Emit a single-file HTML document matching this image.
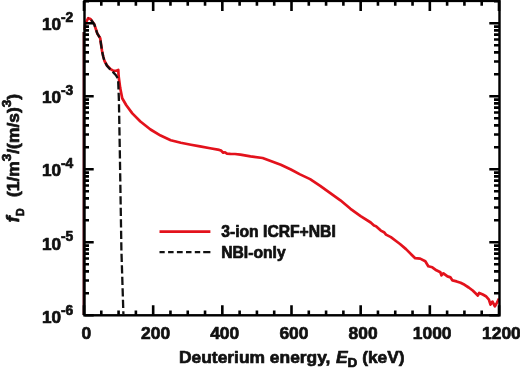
<!DOCTYPE html><html><head><meta charset="utf-8"><title>plot</title><style>html,body{margin:0;padding:0;background:#fff}svg{display:block}</style></head><body><svg width="520" height="368" viewBox="0 0 520 368">
<rect width="520" height="368" fill="#fff"/>
<polyline points="84.6,30.0 85.2,24.0 88.2,18.2 90.5,19.0 94.3,24.3 96.0,29.5 97.3,33.5 100.2,38.2 101.0,44.0 102.0,50.8 103.2,56.5 104.5,61.0 107.0,65.5 110.6,69.2 113.6,70.9 116.7,70.6 118.3,70.0 118.6,76.0 120.2,88.1 122.2,98.2 126.3,105.3 132.3,113.4 140.4,121.5 150.5,129.5 160.6,135.6 170.7,140.2 180.8,142.7 190.9,144.7 200.0,146.3 210.1,148.3 219.2,149.9 221.0,150.6 223.2,152.7 225.0,152.3 227.0,153.6 230.3,153.9 235.0,154.0 240.4,154.7 250.5,156.4 262.6,158.0 270.7,161.0 280.8,164.8 290.9,169.5 300.0,174.4 310.1,179.1 320.2,185.8 330.3,193.2 340.4,200.3 350.5,208.8 360.6,216.1 370.7,222.5 374.0,225.5 376.0,226.2 380.8,230.6 384.0,232.2 386.0,234.6 390.9,237.1 396.0,241.0 400.0,244.0 406.0,249.1 412.1,255.2 415.2,258.2 420.2,258.6 425.3,261.2 428.3,266.3 432.3,267.3 436.4,270.3 440.4,272.3 441.4,275.4 443.4,273.3 447.5,276.4 450.5,277.4 452.5,280.4 456.6,281.4 460.6,282.8 464.6,284.8 468.7,287.5 472.7,290.5 475.8,293.5 477.8,295.6 479.2,292.9 482.8,294.5 485.9,296.2 488.9,299.6 490.5,304.6 492.5,301.6 494.9,306.3 497.0,302.6 499.0,298.6" fill="none" stroke="#e3121c" stroke-width="2.7" stroke-linejoin="round"/>
<polyline points="88.2,18.2 90.5,19.0 94.3,24.3 96.0,29.5 97.3,33.5 100.2,38.2 101.0,44.0 102.0,50.8 103.2,56.5 104.5,61.0 107.0,65.8 110.6,69.8 113.3,72.4 115.7,75.0 118.1,78.8 118.9,100.0 119.8,150.0 121.4,250.0 123.4,314.0" fill="none" stroke="#111" stroke-width="2.3" stroke-dasharray="8.2 3.3" stroke-dashoffset="8"/>
<path d="M83.3 315V32" stroke="#50000c" stroke-width="1.6" fill="none"/>
<path d="M84.00 315.3v-10M84.00 0.9v10M101.29 315.3v-4.8M101.29 0.9v4.8M118.58 315.3v-4.8M118.58 0.9v4.8M135.88 315.3v-4.8M135.88 0.9v4.8M153.17 315.3v-10M153.17 0.9v10M170.46 315.3v-4.8M170.46 0.9v4.8M187.75 315.3v-4.8M187.75 0.9v4.8M205.04 315.3v-4.8M205.04 0.9v4.8M222.33 315.3v-10M222.33 0.9v10M239.62 315.3v-4.8M239.62 0.9v4.8M256.92 315.3v-4.8M256.92 0.9v4.8M274.21 315.3v-4.8M274.21 0.9v4.8M291.50 315.3v-10M291.50 0.9v10M308.79 315.3v-4.8M308.79 0.9v4.8M326.08 315.3v-4.8M326.08 0.9v4.8M343.38 315.3v-4.8M343.38 0.9v4.8M360.67 315.3v-10M360.67 0.9v10M377.96 315.3v-4.8M377.96 0.9v4.8M395.25 315.3v-4.8M395.25 0.9v4.8M412.54 315.3v-4.8M412.54 0.9v4.8M429.83 315.3v-10M429.83 0.9v10M447.12 315.3v-4.8M447.12 0.9v4.8M464.42 315.3v-4.8M464.42 0.9v4.8M481.71 315.3v-4.8M481.71 0.9v4.8M499.00 315.3v-10M499.00 0.9v10M84.5 315.30h9.2M499.5 315.30h-10.2M84.5 293.32h4.5M499.5 293.32h-5.5M84.5 280.47h4.5M499.5 280.47h-5.5M84.5 271.35h4.5M499.5 271.35h-5.5M84.5 264.28h4.5M499.5 264.28h-5.5M84.5 258.49h4.5M499.5 258.49h-5.5M84.5 253.61h4.5M499.5 253.61h-5.5M84.5 249.37h4.5M499.5 249.37h-5.5M84.5 245.64h4.5M499.5 245.64h-5.5M84.5 242.30h9.2M499.5 242.30h-10.2M84.5 220.32h4.5M499.5 220.32h-5.5M84.5 207.47h4.5M499.5 207.47h-5.5M84.5 198.35h4.5M499.5 198.35h-5.5M84.5 191.28h4.5M499.5 191.28h-5.5M84.5 185.49h4.5M499.5 185.49h-5.5M84.5 180.61h4.5M499.5 180.61h-5.5M84.5 176.37h4.5M499.5 176.37h-5.5M84.5 172.64h4.5M499.5 172.64h-5.5M84.5 169.30h9.2M499.5 169.30h-10.2M84.5 147.32h4.5M499.5 147.32h-5.5M84.5 134.47h4.5M499.5 134.47h-5.5M84.5 125.35h4.5M499.5 125.35h-5.5M84.5 118.28h4.5M499.5 118.28h-5.5M84.5 112.49h4.5M499.5 112.49h-5.5M84.5 107.61h4.5M499.5 107.61h-5.5M84.5 103.37h4.5M499.5 103.37h-5.5M84.5 99.64h4.5M499.5 99.64h-5.5M84.5 96.30h9.2M499.5 96.30h-10.2M84.5 74.32h4.5M499.5 74.32h-5.5M84.5 61.47h4.5M499.5 61.47h-5.5M84.5 52.35h4.5M499.5 52.35h-5.5M84.5 45.28h4.5M499.5 45.28h-5.5M84.5 39.49h4.5M499.5 39.49h-5.5M84.5 34.61h4.5M499.5 34.61h-5.5M84.5 30.37h4.5M499.5 30.37h-5.5M84.5 26.64h4.5M499.5 26.64h-5.5M84.5 23.30h9.2M499.5 23.30h-10.2M84.5 1.32h4.5M499.5 1.32h-5.5" stroke="#000" stroke-width="2.6" fill="none"/>
<rect x="84.5" y="0.9" width="415.0" height="314.40000000000003" fill="none" stroke="#000" stroke-width="2.45"/>
<g font-family="Liberation Sans, Arial, Helvetica, sans-serif" font-weight="bold" fill="#111" stroke="#111" stroke-width="0.7" stroke-linejoin="round">
<text x="86.4" y="338.7" font-size="17.4" text-anchor="middle">0</text>
<text x="155.6" y="338.7" font-size="17.4" text-anchor="middle">200</text>
<text x="224.7" y="338.7" font-size="17.4" text-anchor="middle">400</text>
<text x="293.9" y="338.7" font-size="17.4" text-anchor="middle">600</text>
<text x="363.1" y="338.7" font-size="17.4" text-anchor="middle">800</text>
<text x="432.2" y="338.7" font-size="17.4" text-anchor="middle">1000</text>
<text x="501.4" y="338.7" font-size="17.4" text-anchor="middle">1200</text>
<text x="73.3" y="322.9" font-size="17.2" text-anchor="end">10<tspan font-size="13.8" dy="-8.3">-6</tspan></text>
<text x="73.3" y="249.7" font-size="17.2" text-anchor="end">10<tspan font-size="13.8" dy="-8.3">-5</tspan></text>
<text x="73.3" y="176.4" font-size="17.2" text-anchor="end">10<tspan font-size="13.8" dy="-8.3">-4</tspan></text>
<text x="73.3" y="103.2" font-size="17.2" text-anchor="end">10<tspan font-size="13.8" dy="-8.3">-3</tspan></text>
<text x="73.3" y="29.9" font-size="17.2" text-anchor="end">10<tspan font-size="13.8" dy="-8.3">-2</tspan></text>
<text x="179" y="362.9" font-size="17.4">Deuterium energy, <tspan font-style="italic" dx="0.7">E</tspan><tspan font-size="13.5" dy="4.1">D</tspan><tspan dy="-4.1"> (keV)</tspan></text>
<text transform="translate(19,222.3) rotate(-90)" font-size="17.4"><tspan font-size="18" font-style="italic">f</tspan><tspan font-size="11" dy="4.6">D</tspan><tspan dy="-4.6">&#160;</tspan><tspan dx="6.5">(</tspan><tspan>1/m</tspan><tspan font-size="13.5" dy="-8.4">3</tspan><tspan dy="8.4">/</tspan><tspan>(</tspan><tspan>m/s</tspan><tspan>)</tspan><tspan font-size="13.5" dy="-8.4">3</tspan><tspan dy="8.4">)</tspan></text>
<path d="M159.5 231.6H210.4" stroke="#e3121c" stroke-width="2.7"/>
<path d="M159.5 252.2H210.4" stroke="#111" stroke-width="2.2" stroke-dasharray="5.2 3.4 5.5 3.3 5.8 3.3 5.5 3.3 5.4 3 7.3"/>
<text x="221.2" y="236.6" font-size="15.7">3-ion ICRF+NBI</text>
<text x="221.2" y="257.7" font-size="15.7">NBI-only</text>
</g></svg></body></html>
